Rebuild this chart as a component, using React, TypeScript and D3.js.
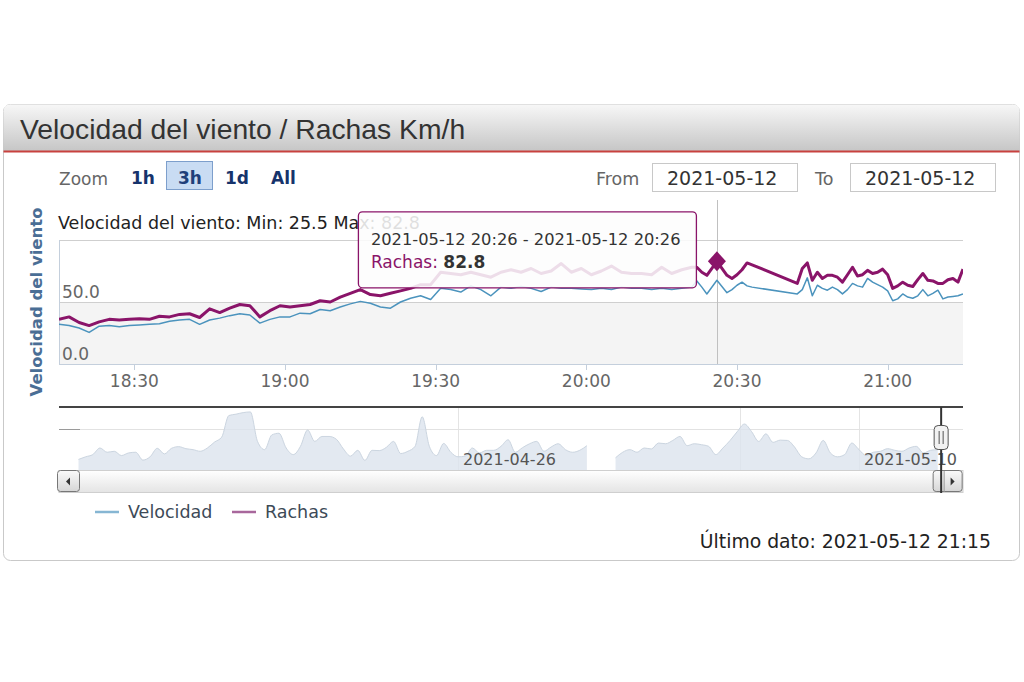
import React from 'react';
import * as d3 from 'd3';

// main chart data (2021-05-12)
const DAY = '2021-05-12';
const times = [
  '18:15', '18:17', '18:19', '18:21', '18:23', '18:25', '18:27', '18:29', '18:31', '18:33',
  '18:35', '18:37', '18:39', '18:41', '18:43', '18:45', '18:47', '18:49', '18:51', '18:53',
  '18:55', '18:57', '18:59', '19:01', '19:03', '19:05', '19:07', '19:09', '19:11', '19:13',
  '19:15', '19:17', '19:19', '19:21', '19:23', '19:25', '19:27', '19:29', '19:31', '19:33',
  '19:35', '19:37', '19:39', '19:41', '19:43', '19:45', '19:47', '19:49', '19:51', '19:53',
  '19:55', '19:57', '19:59', '20:01', '20:03', '20:05', '20:07', '20:09', '20:11', '20:13',
  '20:15', '20:17', '20:19', '20:21', '20:22', '20:23', '20:24', '20:26', '20:28', '20:29',
  '20:30', '20:31', '20:32', '20:33', '20:42', '20:43', '20:44', '20:45', '20:46', '20:47',
  '20:48', '20:49', '20:50', '20:51', '20:52', '20:53', '20:54', '20:55', '20:56', '20:57',
  '20:58', '20:59', '21:00', '21:01', '21:02', '21:03', '21:04', '21:05', '21:06', '21:07',
  '21:08', '21:09', '21:10', '21:11', '21:12', '21:13', '21:14', '21:15',
];
const velocidad = [
  32, 31, 29, 25.5, 30.5, 31, 30, 31, 31.5, 32,
  32.5, 34.5, 35.5, 36, 32, 35.5, 37, 39, 40.5, 39.5,
  33, 36, 38, 38, 41, 40.5, 44, 43, 46, 48.5,
  50.5, 49, 46, 45, 50, 53, 55, 52, 61, 60,
  58, 63, 60, 55, 62, 61, 62.5, 61, 58.5, 62,
  61, 61, 60.5, 60, 61, 60, 62, 61, 61, 60,
  61, 60, 61, 62, 67, 62, 56.5, 67.5, 57.5, 60,
  63.5, 66, 63, 62, 56.5, 60, 69.5, 55, 63.5, 61,
  59.5, 62, 60, 56.5, 60, 65, 63, 62, 69, 66,
  64, 62, 59, 51, 52.5, 56.5, 54, 53, 55, 60,
  55, 57, 59.5, 52.5, 54, 54.5, 55, 56.5,
];
const rachas = [
  36, 38, 33.5, 31, 34, 36, 35.5, 36, 36.5, 36,
  38.5, 38, 40, 40.5, 37.5, 44.5, 41.5, 45, 48, 47,
  38, 43, 47, 46, 47, 48, 51, 50, 54, 57,
  60, 56, 55, 57, 59, 61, 64, 64, 74, 73,
  72, 74, 72, 70, 74, 76, 74, 77, 73, 75,
  81, 74, 77, 72, 75, 79, 74, 73, 73, 72,
  78, 73, 76, 78, 78, 74, 71.5, 82.8, 71.5, 69,
  72, 76, 81.5, 80, 65, 77, 81.5, 67.5, 74, 69,
  71.5, 71.5, 70, 66, 72, 78, 71, 72, 75.5, 73,
  74, 76.5, 72, 61, 63, 66, 63.5, 62.5, 68, 73,
  67.5, 67, 65, 65, 68, 69, 66, 76.5,
];

// navigator: one value every 6 hours from 2021-04-12 18:00
const navStart = '2021-04-12 18:00';
const navStepHours = 6;
const navVelocidad: (number | null)[] = [
  45.9, 48.6, 50.9, 57.7, 53.3, 54.3, 49.9, 52.6, 53.3, 45.2,
  48.6, 57.4, 51.6, 57.4, 59.1, 57.0, 56.0, 54.3, 57.7, 63.8,
  68.9, 91.2, 92.6, 94.2, 94.9, 64.5, 56.0, 71.2, 72.9, 57.7,
  50.9, 59.4, 76.3, 64.5, 69.6, 69.6, 66.8, 56.7, 49.3, 55.3,
  44.9, 55.3, 55.0, 58.4, 64.5, 52.0, 54.3, 59.4, 89.9, 59.4,
  49.9, 62.4, 53.3, 48.6, 49.3, 57.7, 52.6, 55.3, 55.3, 59.4,
  66.2, 53.3, 58.0, 62.1, 64.5, 54.3, 58.7, 62.1, 56.0, 53.3,
  55.3, 60.1, null, null, null, 47.6, 53.3, 56.0, 53.3, 57.7,
  56.7, 62.8, 62.1, 65.5, 69.6, 60.1, 62.1, 61.1, 59.4, 50.9,
  57.7, 65.5, 74.6, 82.4, 74.6, 64.5, 72.3, 63.5, 65.8, 65.5,
  58.7, 48.6, 46.5, 52.6, 65.5, 52.6, 48.6, 50.9, 62.8, 56.0,
  49.9, 53.3, 54.3, 57.0, 55.3, 54.3, 57.7, 59.4, 52.6, 55.3,
  56.0,
];
const navLabels = ['2021-04-26 00:00', '2021-05-10 00:00'];
const navGrid = ['2021-04-26 00:00', '2021-05-05 20:00', '2021-05-10 00:00'];

const yTicks = [0, 50, 100];
const zoomButtons = ['1h', '3h', '1d', 'All'];
const selectedZoom = '3h';
const hoverTime = '20:26';
const hoverValue = 82.8;
const minValue = 25.5;
const maxValue = 82.8;
const lastUpdate = '2021-05-12 21:15';

const FONT = '"DejaVu Sans", Verdana, sans-serif';
const W = 1024, H = 682;
const plot = { left: 59, right: 963, top: 240, bottom: 364 };
const nav = { top: 407, bottom: 470, sbBottom: 492 };
const parse = d3.timeParse('%Y-%m-%d %H:%M');

type Pt = { t: Date; v: number };

export default function App() {
  const velPts: Pt[] = times.map((t, i) => ({ t: parse(`${DAY} ${t}`)!, v: velocidad[i] }));
  const racPts: Pt[] = times.map((t, i) => ({ t: parse(`${DAY} ${t}`)!, v: rachas[i] }));

  const x = d3.scaleTime()
    .domain([parse(`${DAY} 18:15`)!, parse(`${DAY} 21:15`)!])
    .range([plot.left, plot.right]);
  const y = d3.scaleLinear().domain([0, 100]).range([plot.bottom, plot.top]);

  const line = d3.line<Pt>().x(d => x(d.t)).y(d => y(d.v));
  const xTicks = x.ticks(d3.timeMinute.every(30)!);
  const fmt = d3.timeFormat('%H:%M');

  // navigator
  const n0 = parse(navStart)!;
  const navPts = navVelocidad.map((v, i) => ({ t: d3.timeHour.offset(n0, i * navStepHours), v }));
  const nx = d3.scaleTime()
    .domain([parse(navLabels[0])!, parse(navLabels[1])!])
    .range([458, 859]);
  const ny = d3.scaleLinear().domain([35, 100]).range([nav.bottom, nav.top]);
  const navArea = d3.area<{ t: Date; v: number | null }>()
    .defined(d => d.v != null)
    .x(d => nx(d.t))
    .y0(ny(35))
    .y1(d => ny(d.v as number))
    .curve(d3.curveMonotoneX);
  const navLine = d3.line<{ t: Date; v: number | null }>()
    .defined(d => d.v != null)
    .x(d => nx(d.t))
    .y(d => ny(d.v as number))
    .curve(d3.curveMonotoneX);
  const selX = nx(parse(`${DAY} 21:15`)!) - 1;

  // hover
  const hx = x(parse(`${DAY} ${hoverTime}`)!);
  const hy = y(hoverValue);
  const tip = { x: hx - 359, y: hy - 50, w: 338, h: 76 };

  const purple = '#8a1469';
  const blue = '#4b93bd';

  return (
    <div style={{ position: 'absolute', left: 0, top: 0 }}>
      <svg width={W} height={H} style={{ display: 'block', fontFamily: FONT }}>
        <defs>
          <linearGradient id="hdr" x1="0" y1="0" x2="0" y2="1">
            <stop offset="0%" stopColor="#f7f7f7" />
            <stop offset="100%" stopColor="#c6c6c6" />
          </linearGradient>
          <linearGradient id="sb" x1="0" y1="0" x2="0" y2="1">
            <stop offset="0%" stopColor="#ffffff" />
            <stop offset="100%" stopColor="#e4e4e4" />
          </linearGradient>
          <linearGradient id="btn" x1="0" y1="0" x2="0" y2="1">
            <stop offset="0%" stopColor="#fafafa" />
            <stop offset="100%" stopColor="#d6d6d6" />
          </linearGradient>
          <clipPath id="plotClip">
            <rect x={plot.left} y={200} width={plot.right - plot.left} height={plot.bottom - 200} />
          </clipPath>
        </defs>
        <rect width={W} height={H} fill="#fff" />

        {/* panel */}
        <rect x={3.5} y={104.5} width={1016} height={456} rx={7} fill="#fff" stroke="#c9c9c9" />
        <path d="M3.5,151 L3.5,111.5 Q3.5,104.5 10.5,104.5 L1012.5,104.5 Q1019.5,104.5 1019.5,111.5 L1019.5,151 Z" fill="url(#hdr)" />
        <line x1={3.5} x2={1019.5} y1={151.5} y2={151.5} stroke="#c8413e" strokeWidth={2} />
        <text x={20} y={139} fontFamily='"Liberation Sans", Arial, sans-serif' fontSize={28.3} fill="#333">
          Velocidad del viento / Rachas Km/h
        </text>

        {/* range selector */}
        <text x={59} y={185} fontSize={17} fill="#666">Zoom</text>
        <rect x={166.5} y={161.5} width={46} height={28} fill="#c9dcf3" stroke="#7d9fcc" />
        {zoomButtons.map((b, i) => (
          <text key={b} x={[131, 178, 225, 271][i]} y={184} fontSize={17} fontWeight="bold"
            fill={b === selectedZoom ? '#1f3f7a' : '#16336b'}>{b}</text>
        ))}
        <text x={596} y={185} fontSize={17.5} fill="#666">From</text>
        <rect x={652.5} y={163.5} width={145} height={28} fill="#fff" stroke="#c8c8c8" />
        <text x={667} y={185} fontSize={19} fill="#333">{DAY}</text>
        <text x={815} y={185} fontSize={17.5} fill="#666">To</text>
        <rect x={850.5} y={163.5} width={145} height={28} fill="#fff" stroke="#c8c8c8" />
        <text x={865} y={185} fontSize={19} fill="#333">{DAY}</text>

        {/* plot background band 0-50 */}
        <rect x={plot.left} y={y(50)} width={plot.right - plot.left} height={y(0) - y(50)} fill="#f4f4f4" />
        {yTicks.filter(t => t > 0).map(t => (
          <line key={t} x1={plot.left} x2={plot.right} y1={Math.round(y(t)) + 0.5} y2={Math.round(y(t)) + 0.5} stroke="#cfcfcf" />
        ))}
        <line x1={plot.left + 0.5} x2={plot.left + 0.5} y1={plot.top} y2={plot.bottom} stroke="#c4cfdc" />
        <line x1={plot.left} x2={plot.right} y1={plot.bottom + 0.5} y2={plot.bottom + 0.5} stroke="#c4cfdc" />
        {yTicks.filter(t => t < 100).map(t => (
          <text key={t} x={62} y={y(t) - 4} fontSize={17} fill="#666">{t.toFixed(1)}</text>
        ))}
        {xTicks.map(t => (
          <g key={+t}>
            <line x1={Math.round(x(t)) + 0.5} x2={Math.round(x(t)) + 0.5} y1={plot.bottom} y2={plot.bottom + 6} stroke="#c4cfdc" />
            <text x={x(t)} y={387} fontSize={17} fill="#666" textAnchor="middle">{fmt(t)}</text>
          </g>
        ))}
        <text transform={`translate(42,302) rotate(-90)`} fontSize={16.5} fontWeight="bold" fill="#4a6e95" textAnchor="middle">
          Velocidad del viento
        </text>
        <text x={58} y={229} fontSize={17.5} fill="#222">
          {`Velocidad del viento: Min: ${minValue} Max: ${maxValue}`}
        </text>

        {/* crosshair */}
        <line x1={Math.round(hx) + 0.5} x2={Math.round(hx) + 0.5} y1={200} y2={plot.bottom} stroke="#c0c0c0" />

        {/* series */}
        <g clipPath="url(#plotClip)">
          <path d={line(velPts) ?? ''} fill="none" stroke={blue} strokeWidth={1.5} strokeLinejoin="round" />
          <path d={line(racPts) ?? ''} fill="none" stroke={purple} strokeWidth={3} strokeLinejoin="round" />
          <path d={`M${hx},${hy - 10}L${hx + 9},${hy}L${hx},${hy + 10}L${hx - 9},${hy}Z`} fill={purple} />
        </g>

        {/* tooltip */}
        <rect x={tip.x + 1} y={tip.y + 1} width={tip.w} height={tip.h} rx={4} fill="#000" opacity={0.06} />
        <rect x={tip.x + 0.5} y={tip.y + 0.5} width={tip.w} height={tip.h} rx={4}
          fill="#fff" fillOpacity={0.86} stroke={purple} strokeWidth={1.3} />
        <text x={tip.x + 13} y={tip.y + 34} fontSize={16.3} fill="#333">
          {`${DAY} ${hoverTime} - ${DAY} ${hoverTime}`}
        </text>
        <text x={tip.x + 13} y={tip.y + 57} fontSize={17} fill={purple}>
          Rachas: <tspan fontWeight="bold" fill="#333">{hoverValue}</tspan>
        </text>

        {/* navigator */}
        {navGrid.map(g => (
          <line key={g} x1={Math.round(nx(parse(g)!)) + 0.5} x2={Math.round(nx(parse(g)!)) + 0.5}
            y1={nav.top} y2={nav.bottom} stroke="#e4e4e4" />
        ))}
        <line x1={80} x2={plot.right} y1={429.5} y2={429.5} stroke="#e2e2e2" />
        <line x1={plot.left} x2={80} y1={429.5} y2={429.5} stroke="#9a9a9a" />
        <path d={navArea(navPts) ?? ''} fill="#dce4ed" fillOpacity={0.8} />
        <path d={navLine(navPts) ?? ''} fill="none" stroke="#cbd5e0" strokeWidth={1} />
        {navLabels.map(l => (
          <text key={l} x={nx(parse(l)!) + 5} y={465} fontSize={16} fill="#555">{l.slice(0, 10)}</text>
        ))}
        <line x1={plot.left} x2={plot.right} y1={nav.top} y2={nav.top} stroke="#444" strokeWidth={2} />

        {/* scrollbar */}
        <rect x={plot.left} y={nav.bottom + 0.5} width={plot.right - plot.left} height={nav.sbBottom - nav.bottom} fill="url(#sb)" stroke="#cfcfcf" />
        <rect x={plot.left - 1.5} y={nav.bottom + 0.5} width={22} height={21} rx={3} fill="url(#btn)" stroke="#777" />
        <path d={`M${plot.left + 7},${nav.bottom + 11.5}l4,-4v8z`} fill="#333" />
        <rect x={selX - 7.5} y={nav.bottom + 0.5} width={29} height={21} rx={3} fill="url(#btn)" stroke="#777" />
        <line x1={selX + 3.5} x2={selX + 3.5} y1={nav.bottom + 1} y2={nav.sbBottom} stroke="#999" />
        <path d={`M${selX + 10},${nav.bottom + 7.5}l4,4l-4,4z`} fill="#333" />
        <line x1={selX + 0.5} x2={selX + 0.5} y1={nav.top} y2={nav.sbBottom + 1} stroke="#333" strokeWidth={2} />
        <rect x={selX - 6.5} y={425.5} width={14} height={24} rx={4} fill="#f2f2f2" stroke="#555" />
        <line x1={selX - 1.5} x2={selX - 1.5} y1={431} y2={444} stroke="#555" />
        <line x1={selX + 2.5} x2={selX + 2.5} y1={431} y2={444} stroke="#555" />

        {/* legend */}
        <line x1={95} x2={119} y1={512} y2={512} stroke="#86b6d3" strokeWidth={2.5} />
        <text x={128} y={518} fontSize={17.5} fill="#3d4a57">Velocidad</text>
        <line x1={232} x2={256} y1={512} y2={512} stroke="#a8679c" strokeWidth={2.5} />
        <text x={265} y={518} fontSize={17.5} fill="#3d4a57">Rachas</text>

        <text x={991} y={548} fontSize={18.8} fill="#222" textAnchor="end">{`Último dato: ${lastUpdate}`}</text>
      </svg>
    </div>
  );
}
